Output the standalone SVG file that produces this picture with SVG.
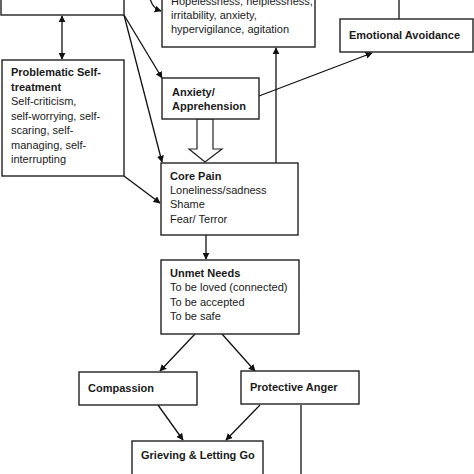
<svg xmlns="http://www.w3.org/2000/svg" width="474" height="474" viewBox="0 0 474 474">
<style>
.box{fill:#fff;stroke:#222;stroke-width:1.4}
.t{font-family:"Liberation Sans",Arial,sans-serif;font-size:11px;fill:#1a1a1a}
.b{font-weight:bold}
.c{fill:none;stroke:#111;stroke-width:1.3}
</style>
<defs>
<marker id="ah" viewBox="0 0 10 10" refX="9" refY="5" markerWidth="7" markerHeight="7" markerUnits="userSpaceOnUse" orient="auto-start-reverse">
<path d="M0,0 L10,5 L0,10 z" fill="#111"/>
</marker>
</defs>
<rect width="474" height="474" fill="#fff"/>
<g id="connectors">
<line class="c" x1="62" y1="16" x2="62" y2="59" marker-start="url(#ah)" marker-end="url(#ah)"/>
<path class="c" d="M150,-2 Q152,8 161,11" marker-end="url(#ah)"/>
<line class="c" x1="124" y1="15" x2="162" y2="78" marker-end="url(#ah)"/>
<line class="c" x1="124" y1="15" x2="162" y2="162" marker-end="url(#ah)"/>
<line class="c" x1="124" y1="176" x2="160" y2="203" marker-end="url(#ah)"/>
<line class="c" x1="259" y1="96" x2="372" y2="53" marker-end="url(#ah)"/>
<line class="c" x1="399" y1="0" x2="399" y2="19"/>
<line class="c" x1="276" y1="163" x2="276" y2="48" marker-end="url(#ah)"/>
<path d="M197,119 L213,119 L213,149 L222,149 L205,162 L189,149 L197,149 z" fill="#fff" stroke="#222" stroke-width="1.2"/>
<line class="c" x1="206" y1="235" x2="206" y2="259" marker-end="url(#ah)"/>
<line class="c" x1="195" y1="334" x2="160" y2="371" marker-end="url(#ah)"/>
<line class="c" x1="222" y1="334" x2="255" y2="371" marker-end="url(#ah)"/>
<line class="c" x1="158" y1="405" x2="183" y2="440" marker-end="url(#ah)"/>
<line class="c" x1="260" y1="405" x2="226" y2="440" marker-end="url(#ah)"/>
<line class="c" x1="301" y1="405" x2="301" y2="476"/>
</g>
<g id="top-left">
<rect class="box" x="1" y="-10" width="123" height="25"/>
</g>
<g id="hopelessness">
<rect class="box" x="162" y="-20" width="153" height="67"/>
<text class="t" x="171" y="5">Hopelessness, helplessness,</text>
<text class="t" x="171" y="19">irritability, anxiety,</text>
<text class="t" x="171" y="33">hypervigilance, agitation</text>
</g>
<g id="emotional-avoidance">
<rect class="box" x="340" y="19" width="133" height="33"/>
<text class="t b" x="349" y="39">Emotional Avoidance</text>
</g>
<g id="problematic">
<rect class="box" x="2" y="60" width="122" height="116"/>
<text class="t b" x="11" y="76">Problematic Self-</text>
<text class="t b" x="11" y="91">treatment</text>
<text class="t" x="11" y="105">Self-criticism,</text>
<text class="t" x="11" y="120">self-worrying, self-</text>
<text class="t" x="11" y="134">scaring, self-</text>
<text class="t" x="11" y="149">managing, self-</text>
<text class="t" x="11" y="163">interrupting</text>
</g>
<g id="anxiety">
<rect class="box" x="162" y="78" width="97" height="41"/>
<text class="t b" x="172" y="96">Anxiety/</text>
<text class="t b" x="172" y="110">Apprehension</text>
</g>
<g id="core-pain">
<rect class="box" x="161" y="163" width="137" height="72"/>
<text class="t b" x="170" y="180">Core Pain</text>
<text class="t" x="170" y="194">Loneliness/sadness</text>
<text class="t" x="170" y="208">Shame</text>
<text class="t" x="170" y="223">Fear/ Terror</text>
</g>
<g id="unmet-needs">
<rect class="box" x="161" y="260" width="138" height="74"/>
<text class="t b" x="170" y="277">Unmet Needs</text>
<text class="t" x="170" y="291">To be loved (connected)</text>
<text class="t" x="170" y="306">To be accepted</text>
<text class="t" x="170" y="320">To be safe</text>
</g>
<g id="compassion">
<rect class="box" x="79" y="372" width="118" height="33"/>
<text class="t b" x="88" y="392">Compassion</text>
</g>
<g id="protective-anger">
<rect class="box" x="241" y="371" width="118" height="33"/>
<text class="t b" x="250" y="391">Protective Anger</text>
</g>
<g id="grieving">
<rect class="box" x="132" y="441" width="131" height="40"/>
<text class="t b" x="141" y="459">Grieving &amp; Letting Go</text>
</g>
</svg>
